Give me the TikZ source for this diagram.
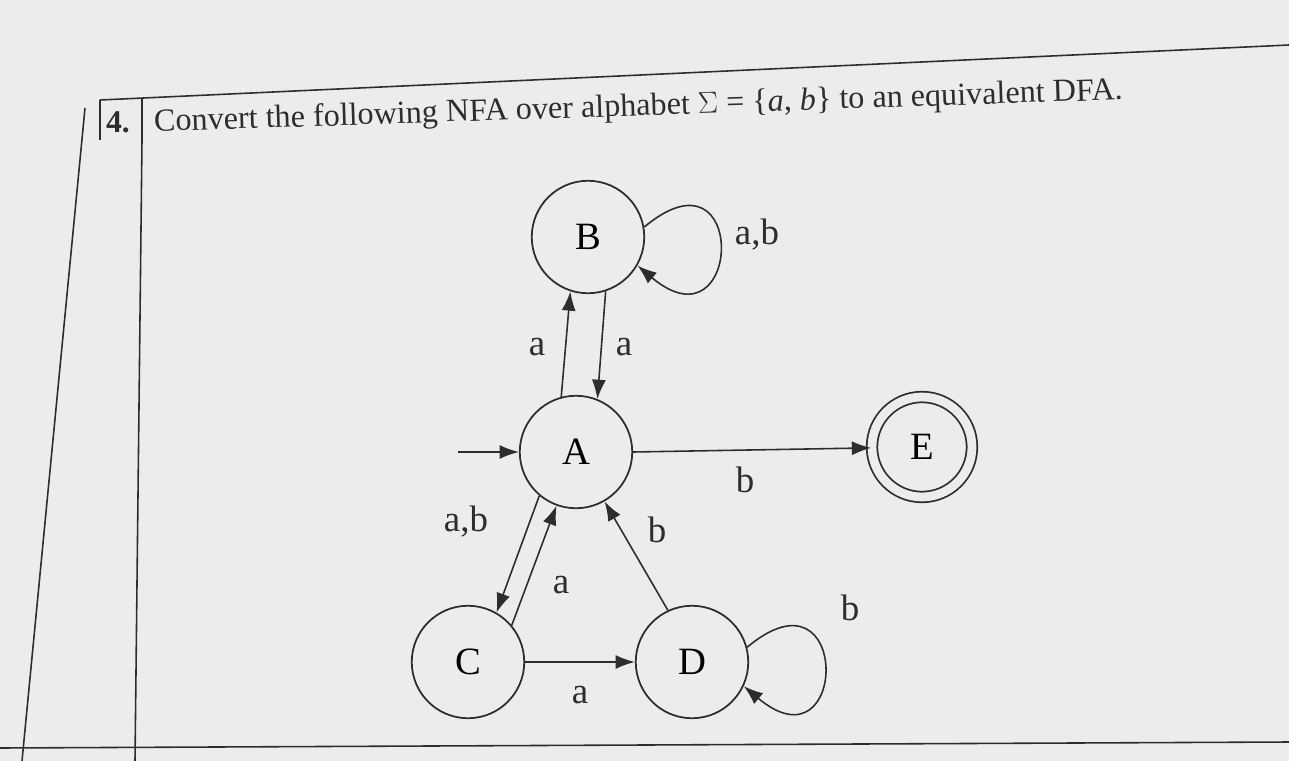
\documentclass[tikz,border=0pt]{standalone}
\usepackage{fontspec}
\setmainfont{Liberation Serif}
\usetikzlibrary{arrows.meta}
\definecolor{paper}{RGB}{236,236,234}
\definecolor{ink}{RGB}{45,45,45}
\begin{document}
\begin{tikzpicture}[x=0.02cm,y=-0.02cm,
  st/.style={circle,draw=ink,line width=1pt,minimum size=2.25cm,inner sep=0pt,font=\fontsize{22}{24}\selectfont},
  lb/.style={font=\fontsize{21}{24}\selectfont,text=ink},
  tr/.style={draw=ink,line width=0.9pt,-{Latex[length=11pt,width=8pt]}}]
\fill[paper] (0,0) rectangle (1289,761);
\useasboundingbox (0,0) rectangle (1289,761);
% frame
\draw[ink,line width=0.9pt] (100,100) -- (1289,45);
\draw[ink,line width=0.9pt] (100,100) -- (100,140);
\draw[ink,line width=0.9pt] (142,98) -- (142,140) -- (135,761);
\draw[ink,line width=0.9pt] (85,108) -- (22,761);
\draw[ink,line width=0.9pt] (0,748) -- (1289,742);
\node[font=\bfseries\fontsize{18}{20}\selectfont,text=ink] (n4) at (118,122) {4.};
\node[anchor=west,font=\fontsize{18.3}{20}\selectfont,text=ink,rotate=1.9] (title) at (148,124) {Convert the following NFA over alphabet $\Sigma$ = \{\textit{a}, \textit{b}\} to an equivalent DFA.};
% states
\node[st] (B) at (588,237) {B};
\node[st] (A) at (576,452) {A};
\node[st,minimum size=2.0cm,double=paper,double distance=5pt] (E) at (922,447) {E};
\node[st] (C) at (468,662) {C};
\node[st] (D) at (692,662) {D};
\coordinate (s) at (458,452);
% edges
\draw[tr] (A.105) -- (B.-108);
\draw[tr] (B.-72) -- (A.68);
\draw[tr] (s) -- (A);
\draw[tr] (B.10) to[out=40,in=-40,looseness=9] (B.-30);
\draw[tr] (A.0) -- (E);
\draw[tr] (A.-130) -- (C.60);
\draw[tr] (C.40) -- (A.-110);
\draw[tr] (D.115) -- (A.-60);
\draw[tr] (C) -- (D);
\draw[tr] (D.15) to[out=40,in=-40,looseness=9] (D.-25);
% labels
\node[lb] (l1) at (537,347) {a};
\node[lb] (l2) at (624,347) {a};
\node[lb] (l3) at (757,235) {a,b};
\node[lb] (l4) at (745,480) {b};
\node[lb] (l5) at (466,522) {a,b};
\node[lb] (l6) at (561,585) {a};
\node[lb] (l7) at (657,530) {b};
\node[lb] (l8) at (580,695) {a};
\node[lb] (l9) at (850,608) {b};
\end{tikzpicture}
\end{document}
